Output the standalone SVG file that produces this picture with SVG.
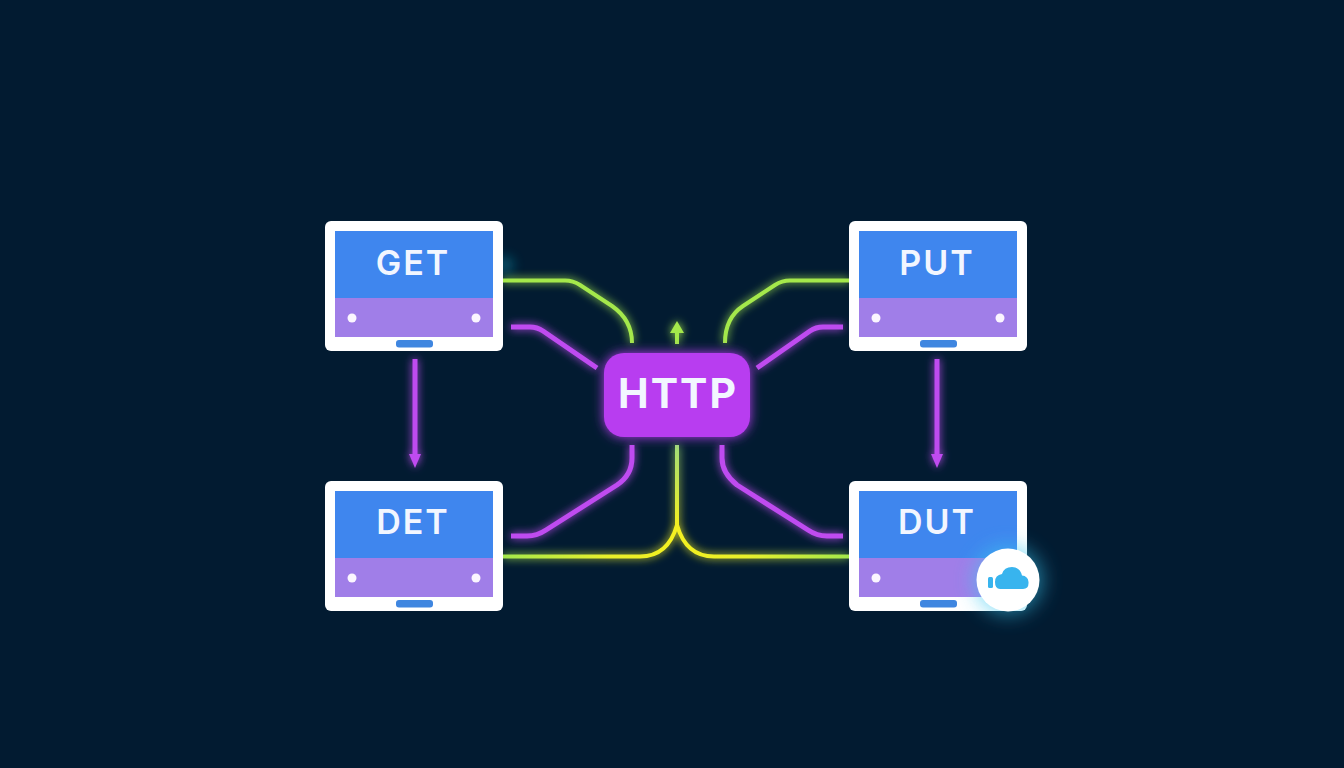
<svg xmlns="http://www.w3.org/2000/svg" xmlns:xlink="http://www.w3.org/1999/xlink" width="1344" height="768" viewBox="0 0 1344 768">
<style>
.lbl{font-family:"Inter","Liberation Sans",sans-serif;font-weight:600;fill:#f2f6ff;text-anchor:middle}
.card{font-size:34px;letter-spacing:2px}
.c{fill:none;stroke-linecap:butt;stroke-linejoin:round}
.p{stroke:#bf4bf0;stroke-width:5}
.g{stroke:#a4e84c;stroke-width:4}
</style>
<defs>
<filter id="gp" x="-30%" y="-30%" width="160%" height="160%"><feGaussianBlur stdDeviation="4" result="b"/><feMerge><feMergeNode in="b"/><feMergeNode in="SourceGraphic"/></feMerge></filter>
<filter id="gh" x="-20%" y="-30%" width="140%" height="160%"><feGaussianBlur stdDeviation="6" result="b"/><feMerge><feMergeNode in="b"/><feMergeNode in="SourceGraphic"/></feMerge></filter>
<filter id="soft" x="-60%" y="-60%" width="220%" height="220%"><feGaussianBlur stdDeviation="10"/></filter>
<filter id="soft2" x="-100%" y="-100%" width="300%" height="300%"><feGaussianBlur stdDeviation="6"/></filter>
<linearGradient id="hl" gradientUnits="userSpaceOnUse" x1="503" y1="0" x2="677" y2="0"><stop offset="0" stop-color="#a4e84c"/><stop offset="0.6" stop-color="#e8f02c"/><stop offset="1" stop-color="#f4f020"/></linearGradient>
<linearGradient id="hr" gradientUnits="userSpaceOnUse" x1="849" y1="0" x2="677" y2="0"><stop offset="0" stop-color="#a4e84c"/><stop offset="0.6" stop-color="#e8f02c"/><stop offset="1" stop-color="#f4f020"/></linearGradient>
<linearGradient id="v" gradientUnits="userSpaceOnUse" x1="0" y1="445" x2="0" y2="525"><stop offset="0" stop-color="#a0dc78"/><stop offset="1" stop-color="#f4f020"/></linearGradient>
<marker id="ap" markerWidth="16" markerHeight="12" refX="7" refY="6" markerUnits="userSpaceOnUse" orient="auto"><path d="M0 0 L14 6 L0 12 Z" fill="#bf4bf0"/></marker>
<g id="card">
<rect x="0" y="0" width="178" height="130" rx="6" fill="#fff"/>
<rect x="10" y="10" width="158" height="68" fill="#3f86ee"/>
<rect x="10" y="77" width="158" height="39" fill="#a07ee8"/>
<circle cx="27" cy="97" r="4.500" fill="#fbf6ff"/>
<circle cx="151" cy="97" r="4.500" fill="#fbf6ff"/>
<rect x="71" y="119" width="37" height="7.500" rx="3" fill="#3f86e0"/>
</g>
</defs>
<rect width="1344" height="768" fill="#021b31"/>
<g id="connectors">
<circle cx="505" cy="265" r="9" fill="#0aa0b8" opacity="0.4" filter="url(#soft2)"/>
<g filter="url(#gp)">
<path class="c g" d="M503 280.500H565Q573 280.500 580 285L612 306Q632 320 632 343"/>
<path class="c g" d="M849 280.500H790Q782 280.500 775 285L743 306Q725 318 725 343"/>
<path class="c g" d="M677 344V333"/>
<path d="M677 321L684 333H670Z" fill="#a4e84c"/>
<path class="c p" d="M511 327H530Q537 327 543 331L597 368"/>
<path class="c p" d="M843 327H823Q816 327 810 331L757 368"/>
<path class="c p" d="M415 359V461" marker-end="url(#ap)"/>
<path class="c p" d="M937 359V461" marker-end="url(#ap)"/>
<path class="c p" d="M632 445V458Q632 475 617 485L546 530Q537 536 527 536H511"/>
<path class="c p" d="M722 445V458Q722 473 737 485L808 530Q817 536 827 536H843"/>
</g>
<g filter="url(#gp)">
<path class="c" stroke="url(#v)" stroke-width="4" d="M677 445V525"/>
<path class="c" stroke="url(#hl)" stroke-width="4" d="M503 556.500H640Q668 556.500 677 525"/>
<path class="c" stroke="url(#hr)" stroke-width="4" d="M849 556.500H714Q686 556.500 677 525"/>
</g>
</g>
<g id="node-get"><use href="#card" x="325" y="221"/><text class="lbl card" x="413" y="275">GET</text></g>
<g id="node-put"><use href="#card" x="849" y="221"/><text class="lbl card" x="937" y="275">PUT</text></g>
<g id="node-det"><use href="#card" x="325" y="481"/><text class="lbl card" x="413" y="534">DET</text></g>
<g id="node-dut"><use href="#card" x="849" y="481"/><text class="lbl card" x="937" y="534">DUT</text></g>
<g id="node-http">
<rect x="604" y="353" width="146" height="84" rx="20" fill="#b83cf0" filter="url(#gh)"/>
<text class="lbl" x="678" y="408" font-size="41" letter-spacing="2" style="font-weight:700">HTTP</text>
</g>
<g id="badge-cloud">
<circle cx="1008" cy="580" r="34" fill="#3ac8f0" opacity="0.6" filter="url(#soft)"/>
<circle cx="1008" cy="580" r="31.500" fill="#fff"/>
<path d="M1000 589H1023Q1029 589 1028.500 582Q1028 576 1022 575.500Q1020 567 1012 567Q1004 567 1002 574Q995 575 995 582Q995 589 1000 589Z" fill="#38b4ee"/>
<rect x="988" y="577" width="5" height="11" rx="1.500" fill="#38b4ee"/>
</g>
</svg>
